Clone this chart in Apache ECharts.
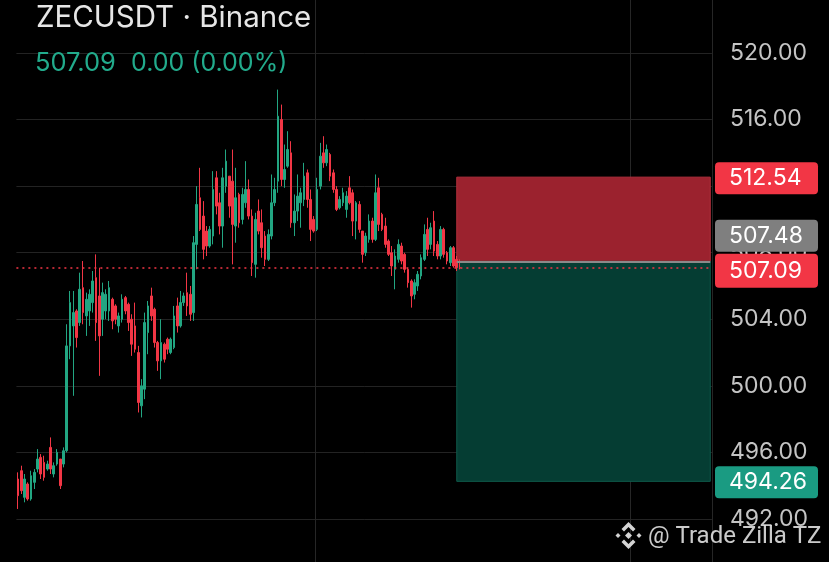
<!DOCTYPE html>
<html><head><meta charset="utf-8">
<script src="https://cdn.jsdelivr.net/npm/echarts@6/dist/echarts.min.js"></script>
<style>html,body{margin:0;padding:0;background:#000;overflow:hidden}#c{width:829px;height:562px}</style>
</head><body><div id="c"></div>
<script>
// ---- data (ZECUSDT candles) ----
const opens = [494.4,494.9,493.3,494.1,493.2,494.2,495.0,495.7,495.4,495.0,496.3,494.7,495.3,495.6,495.3,496.1,502.4,503.6,504.5,503.8,
505.9,504.2,504.5,505.0,506.5,505.4,504.0,504.5,504.5,505.2,504.8,503.6,504.0,505.3,504.9,504.0,503.6,502.0,498.8,499.8,
503.2,505.4,504.6,502.6,501.5,502.5,502.8,502.0,502.3,504.8,503.6,505.0,505.6,505.5,504.4,508.5,511.3,510.2,509.3,508.4,
509.0,512.5,511.0,509.6,512.0,512.6,512.3,509.6,511.5,510.0,511.0,511.8,510.2,507.3,510.5,509.8,509.0,507.6,509.0,511.0,
512.3,516.0,512.4,513.2,514.0,509.8,510.5,511.0,511.2,512.8,511.2,510.0,509.4,512.0,514.0,513.4,513.9,512.8,511.8,510.7,
511.0,510.6,511.9,511.6,509.9,510.9,509.3,508.0,508.8,509.9,508.8,511.9,510.3,509.6,508.7,508.0,507.0,507.6,508.4,507.9,
507.0,506.3,505.5,506.0,506.6,507.6,509.4,508.5,509.9,508.5,507.8,509.4,508.0,507.4,508.3,507.6,507.1];
const closes = [493.4,493.7,494.4,493.2,494.6,494.8,495.6,494.7,494.5,495.3,495.0,495.2,496.0,494.0,496.1,502.4,505.0,504.4,502.9,505.8,
504.4,505.2,505.5,506.3,503.8,503.0,505.6,505.5,505.9,503.9,504.0,504.2,505.2,504.5,503.8,502.5,502.2,499.0,500.0,503.8,
504.8,504.2,502.6,501.5,502.6,501.6,502.2,502.8,504.2,503.6,505.0,505.4,504.8,504.3,508.6,510.9,509.4,508.2,508.4,509.4,
511.8,510.8,509.6,512.5,513.5,510.8,509.7,511.3,509.8,511.5,511.8,510.2,507.4,510.0,509.3,508.3,507.6,509.1,511.0,511.8,
516.2,512.4,513.0,514.2,509.8,510.5,511.4,511.6,512.6,511.2,509.4,509.3,511.8,513.8,513.4,514.2,512.6,511.8,510.6,511.2,
511.6,511.4,511.0,509.9,511.0,509.4,507.9,509.0,509.9,508.8,511.6,509.7,509.4,508.5,507.9,507.2,507.8,508.5,507.5,507.0,
506.2,505.4,506.2,506.7,507.7,509.1,508.2,509.5,508.1,507.8,509.4,507.9,507.5,508.3,507.2,507.1,507.09];
const lows = [492.6,493.5,493.0,493.1,493.1,493.8,494.8,494.4,494.3,494.9,494.7,494.5,495.2,493.8,495.1,496.0,501.6,499.4,502.3,503.6,
503.7,503.0,503.6,504.4,502.7,500.6,503.0,504.0,503.9,503.4,503.7,503.2,503.8,504.3,503.3,501.8,502.0,498.4,498.1,499.2,
501.9,503.9,502.3,500.9,500.4,501.4,501.9,501.9,502.2,503.2,503.5,504.8,504.2,503.9,503.9,507.0,509.3,507.6,507.8,508.3,
508.5,510.3,509.1,508.3,511.6,510.1,507.3,508.6,509.5,509.7,510.7,510.0,506.6,506.5,509.1,507.7,507.2,507.5,508.8,510.8,
511.6,512.0,511.9,513.1,509.5,509.0,509.9,509.5,510.8,510.7,508.7,509.2,509.3,511.8,513.1,513.2,512.3,511.6,510.5,510.6,
510.8,510.1,510.9,509.0,508.8,509.2,507.4,507.8,508.6,508.6,508.7,509.3,509.3,508.3,507.8,506.6,505.8,507.4,507.3,506.8,
505.9,504.7,505.2,505.7,506.4,507.5,507.8,508.2,507.8,507.6,507.6,507.7,507.3,507.2,507.1,506.9,507.0];
const highs = [494.8,495.2,494.7,494.2,494.9,495.0,496.2,495.9,495.8,495.5,496.9,495.4,496.2,495.6,496.3,503.7,505.7,505.7,504.6,506.8,
507.5,505.6,505.8,506.9,507.9,507.1,506.2,505.8,506.3,505.3,504.9,504.4,505.5,505.4,505.0,504.3,505.0,502.4,500.4,504.4,
505.1,505.9,504.7,502.7,504.0,502.6,502.9,502.9,504.8,505.3,505.7,505.6,506.8,506.0,509.0,512.0,513.1,511.1,509.6,509.6,
512.9,512.9,511.6,513.1,514.2,512.6,514.2,513.1,511.6,511.9,513.5,512.4,510.6,510.4,511.2,510.6,509.3,509.4,512.7,512.5,
517.8,516.9,514.5,515.3,514.7,511.5,512.7,511.9,513.4,513.0,511.8,510.2,512.5,514.6,515.0,514.5,514.0,513.0,512.0,511.4,
511.9,511.7,512.6,511.8,511.1,511.1,509.3,509.2,510.3,510.1,512.7,512.5,510.4,510.1,508.8,508.4,508.2,508.8,508.6,508.0,
507.1,506.4,506.4,506.9,507.9,509.7,510.1,509.8,510.5,508.7,509.6,509.5,508.1,508.4,508.4,507.8,507.6];
const totalSlots = 214;           // candle slots incl. empty space to the right
const lastPrice = 507.09;
const entryPrice = 507.48;
const stopPrice = 512.54;
const targetPrice = 494.26;
const yMin = 488, yMax = 524, yStep = 4;
const zoneStartIndex = 135;
const gridLineIndices = [92, 189];

const UP = '#22a682', DOWN = '#f23645';
const categories = Array.from({length: totalSlots}, (_, i) => String(i));
const candles = opens.map((o, i) => [o, closes[i], lows[i], highs[i]]);

const chart = echarts.init(document.getElementById('c'), null, {renderer: 'canvas'});
const FONT = 'Inter, Roboto, sans-serif';

chart.setOption({
  backgroundColor: '#000',
  animation: false,
  grid: {left: 16.375, right: 117.1, top: -13.57, height: 599.1, containLabel: false, outerBoundsMode: 'none'},
  xAxis: {
    type: 'category', data: categories, boundaryGap: true,
    axisLine: {show: false}, axisTick: {show: false}, axisLabel: {show: false},
    splitLine: {show: true, interval: (idx) => gridLineIndices.includes(idx),
      lineStyle: {color: '#262626', width: 1}}
  },
  yAxis: {
    type: 'value', position: 'right', min: yMin, max: yMax, interval: yStep,
    axisLine: {show: false}, axisTick: {show: false},
    axisLabel: {color: '#c4c4c4', fontSize: 23, fontFamily: FONT, margin: 18,
      showMinLabel: false, showMaxLabel: false,
      formatter: v => v.toFixed(2)},
    splitLine: {lineStyle: {color: '#232323', width: 1}}
  },
  series: [{
    type: 'candlestick',
    data: candles,
    barWidth: 2.4,
    itemStyle: {color: UP, color0: DOWN, borderColor: UP, borderColor0: DOWN, borderWidth: 1},
    markArea: {
      silent: true,
      data: [
        [{coord: [zoneStartIndex, stopPrice], itemStyle: {color: '#9b222e', borderColor: '#b3303d', borderWidth: 1}},
         {coord: [totalSlots - 1, entryPrice]}],
        [{coord: [zoneStartIndex, entryPrice], itemStyle: {color: '#053d33', borderColor: '#0f5c4c', borderWidth: 1}},
         {coord: [totalSlots - 1, targetPrice]}]
      ]
    },
    markLine: {
      silent: true, symbol: ['none', 'none'], label: {show: false},
      data: [
        {yAxis: lastPrice, lineStyle: {color: DOWN, type: [2, 4], width: 1.5}},
        [{coord: [zoneStartIndex, entryPrice], lineStyle: {color: '#8a8a8a', type: 'solid', width: 2}},
         {coord: [totalSlots - 1, entryPrice]}]
      ]
    }
  }]
});

function tag(yCenter, text, bg, h) {
  h = h || 32;
  return [
    {type: 'rect', z: 100, shape: {x: 715, y: yCenter - h / 2, width: 103, height: h, r: 4}, style: {fill: bg}},
    {type: 'text', z: 101, style: {text: text, x: 729, y: yCenter, fill: '#fff', font: '23px ' + FONT,
      textAlign: 'left', textVerticalAlign: 'middle'}}
  ];
}
const py = v => chart.convertToPixel({yAxisIndex: 0}, v);
const yLast = py(lastPrice) + 3;
const yEntry = yLast - 17 - 2 - 16;
const logoX = 628.5, logoY = 535.5;
const logoColor = '#d4d4d4';
const poly = pts => ({type: 'polygon', z: 100, shape: {points: pts.map(p => [logoX + p[0], logoY + p[1]])}, style: {fill: logoColor}});

chart.setOption({
  graphic: [
    {type: 'text', z: 100, style: {text: 'ZECUSDT · Binance', x: 36, y: 18.5, fill: '#e6e6e6',
      font: '29.5px ' + FONT, textVerticalAlign: 'middle'}},
    {type: 'text', z: 100, style: {text: '507.09', x: 35, y: 63, fill: '#22ab8c',
      font: '25.5px ' + FONT, textVerticalAlign: 'middle'}},
    {type: 'text', z: 100, style: {text: '0.00 (0.00%)', x: 131, y: 63, fill: '#22ab8c',
      font: '25px ' + FONT, textVerticalAlign: 'middle'}},
    ...tag(py(stopPrice) + 1, '512.54', '#f23645'),
    ...tag(yEntry, '507.48', '#7f7f7f'),
    ...tag(yLast, '507.09', '#f23645', 34),
    ...tag(py(targetPrice) + 1, '494.26', '#1a9b82'),
    poly([[-7,-6.5],[0,-13.5],[7,-6.5],[4.5,-4],[0,-8.5],[-4.5,-4]]),
    poly([[-7,6.5],[0,13.5],[7,6.5],[4.5,4],[0,8.5],[-4.5,4]]),
    poly([[0,-3.5],[3.5,0],[0,3.5],[-3.5,0]]),
    poly([[-13,0],[-10.5,-2.5],[-8,0],[-10.5,2.5]]),
    poly([[13,0],[10.5,-2.5],[8,0],[10.5,2.5]]),
    {type: 'text', z: 100, style: {text: '@ Trade Zilla TZ', x: 648, y: 537, fill: 'rgba(225,225,225,0.9)',
      font: '24px Roboto, sans-serif', textVerticalAlign: 'middle'}}
  ]
});
</script></body></html>
